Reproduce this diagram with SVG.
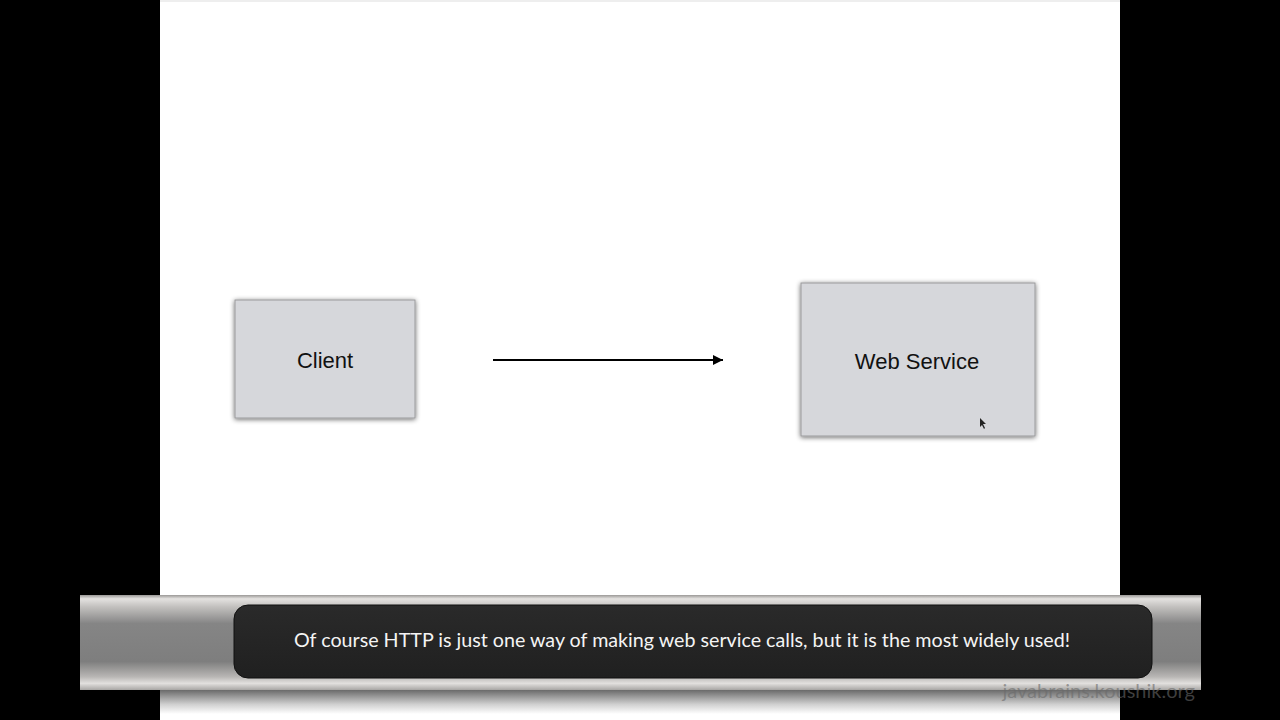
<svg xmlns="http://www.w3.org/2000/svg" width="1280" height="720" viewBox="0 0 1280 720">
<defs>
<style>
.box{fill:#d6d7db;stroke:#9a9a9c;stroke-width:1}
.lbl{font-family:"Liberation Sans",Arial,sans-serif;font-size:22px;fill:#111;text-anchor:middle}
.cap{font-family:Lato,"Open Sans",sans-serif;font-size:19.7px;fill:#f4f4f4;text-anchor:middle}
</style>
<filter id="sh" x="-10%" y="-10%" width="120%" height="130%">
<feGaussianBlur in="SourceAlpha" stdDeviation="2.5"/>
<feOffset dx="0" dy="1" result="b"/>
<feComponentTransfer><feFuncA type="linear" slope="0.6"/></feComponentTransfer>
<feMerge><feMergeNode/><feMergeNode in="SourceGraphic"/></feMerge>
</filter>
<marker id="ah" viewBox="0 0 10 10" refX="10" refY="5" markerWidth="10" markerHeight="10" markerUnits="userSpaceOnUse" orient="auto">
<path d="M0,0 L10,5 L0,10 z" fill="#000"/>
</marker>
<linearGradient id="bar" x1="0" y1="0" x2="0" y2="1">
<stop offset="0" stop-color="#9a9896"/>
<stop offset="0.04" stop-color="#e4e2e0"/>
<stop offset="0.12" stop-color="#c4c2c0"/>
<stop offset="0.3" stop-color="#858585"/>
<stop offset="0.7" stop-color="#7e7e7e"/>
<stop offset="0.86" stop-color="#b8b6b4"/>
<stop offset="0.93" stop-color="#e2e0de"/>
<stop offset="1" stop-color="#a8a6a4"/>
</linearGradient>
<linearGradient id="under" x1="0" y1="0" x2="0" y2="1">
<stop offset="0" stop-color="#6a6a6a"/>
<stop offset="0.6" stop-color="#d0d0d0"/>
<stop offset="1" stop-color="#ffffff"/>
</linearGradient>
<linearGradient id="pill" x1="0" y1="0" x2="0" y2="1">
<stop offset="0" stop-color="#2a2a2a"/>
<stop offset="1" stop-color="#202020"/>
</linearGradient>
<clipPath id="wm"><rect x="900" y="682" width="320" height="30"/></clipPath>
</defs>
<rect x="0" y="0" width="1280" height="720" fill="#000"/>
<rect x="160" y="0" width="960" height="720" fill="#fff"/>
<line x1="160" y1="1" x2="1120" y2="1" stroke="#ddd" stroke-width="1"/>

<g id="connectors">
<line x1="493" y1="360" x2="723" y2="360" stroke="#000" stroke-width="2" marker-end="url(#ah)"/>
</g>

<g id="client">
<rect class="box" x="235" y="300" width="180" height="118" filter="url(#sh)"/>
<text class="lbl" x="325" y="368">Client</text>
</g>

<g id="web-service">
<rect class="box" x="801" y="283" width="234" height="153" filter="url(#sh)"/>
<text class="lbl" x="917" y="369">Web Service</text>
<path d="M980,418 L980,427 L982,425 L984,429 L985,428 L983,424 L986,424 z" fill="#222"/>
</g>

<g id="caption">
<rect x="160" y="690" width="960" height="24" fill="url(#under)"/>
<rect x="80" y="595" width="1121" height="95" fill="url(#bar)"/>
<text x="1195" y="698" clip-path="url(#wm)" font-family="Lato,'Open Sans',sans-serif" font-size="20" fill="#6a6a6a" fill-opacity="0.6" text-anchor="end">javabrains.koushik.org</text>
<rect x="234" y="605" width="918" height="73" rx="14" ry="14" fill="url(#pill)" stroke="#111" stroke-width="1"/>
<text class="cap" x="682" y="647">Of course HTTP is just one way of making web service calls, but it is the most widely used!</text>
</g>
</svg>
